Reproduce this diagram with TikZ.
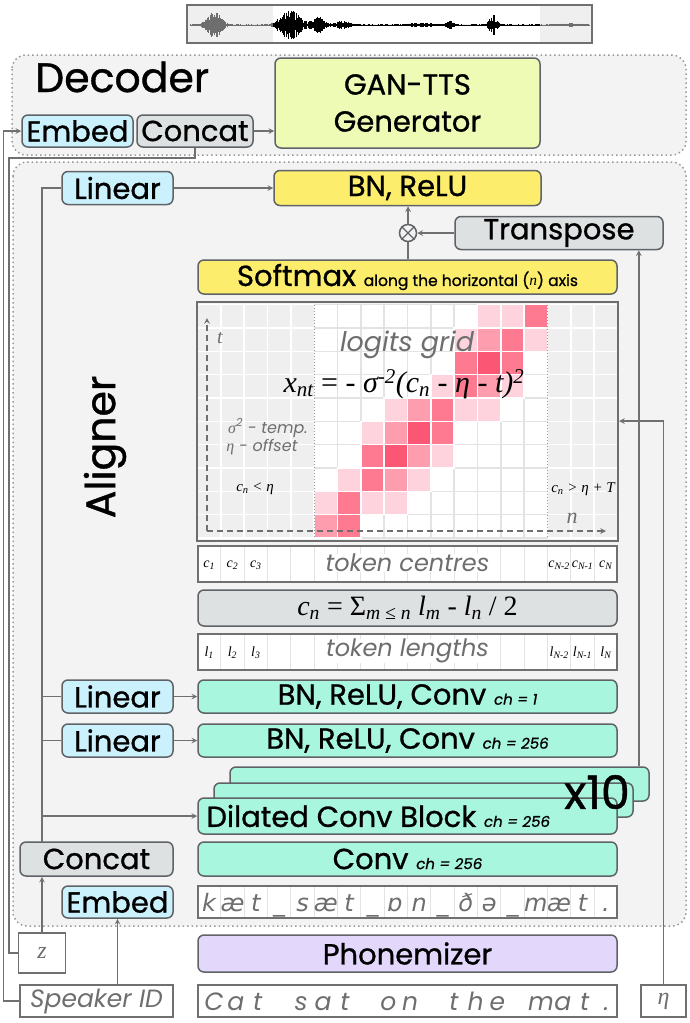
\documentclass[tikz,border=0pt]{standalone}
\usepackage{fontspec}
\setmainfont{Poppins}
\newfontfamily\lbl{Poppins}[FakeBold=0.9]
\newfontfamily\tms{Liberation Serif}
\newfontfamily\ipa{DejaVu Sans}
\usetikzlibrary{calc,arrows}
\usepackage{xcolor}
\definecolor{ln}{HTML}{5F6368}
\definecolor{wirec}{HTML}{707070}
\definecolor{bg}{HTML}{F3F3F3}
\definecolor{regc}{HTML}{9A9A9A}
\definecolor{txg}{HTML}{6E6E6E}
\definecolor{side}{HTML}{EFEFEF}
\definecolor{gline}{HTML}{E3E3E3}
\definecolor{blu}{HTML}{CBF1FC}
\definecolor{gry}{HTML}{DDE1E1}
\definecolor{gan}{HTML}{EEFBB4}
\definecolor{yel}{HTML}{FCEE6C}
\definecolor{grn}{HTML}{A8F6DE}
\definecolor{pur}{HTML}{E3D7FB}
\definecolor{pa}{HTML}{FED3DE}
\definecolor{pb}{HTML}{FE9DAE}
\definecolor{pc}{HTML}{FD7A91}
\definecolor{pd}{HTML}{FB5674}
\newcommand\fsz[1]{\fontsize{#1}{#1}\selectfont}
\newcommand\chn[1]{{\fsz{15}\itshape #1}}
\pgfmathdeclarefunction{bump}{4}{\pgfmathparse{#4*exp(-min(((#1-#2)/#3)^2,9))}}

\begin{document}
\begin{tikzpicture}[x=1pt,y=-1pt,
  box/.style={draw=ln,line width=1.5,rounded corners=6,inner sep=0,font=\lbl\fsz{29}},
  bluebox/.style={box,fill=blu,minimum width=111,minimum height=33},
  graybox/.style={box,fill=gry},
  yelbox/.style={box,fill=yel,minimum width=419,minimum height=34},
  grnbox/.style={box,fill=grn,minimum width=419,minimum height=34},
  whitebox/.style={draw=wirec,line width=1.5,fill=white,inner sep=0,minimum width=419,minimum height=36},
  region/.style={fill=bg,draw=regc,line width=1.5,dash pattern=on 1.5pt off 3pt,rounded corners=14},
  wire/.style={draw=wirec,line width=1.5},
  axis/.style={draw=txg,line width=1.5,dash pattern=on 6pt off 4pt},
  gtext/.style={text=txg,font=\fsz{24}\itshape,inner sep=0}]
\useasboundingbox (0,0) rectangle (689,1023);
\def\gx{197.5}
\def\gy{304.7}
\def\cw{23.333}

\draw[region] (12,55) rectangle (686,155);
\draw[region] (13,162) rectangle (686,926);

\fill[white] (187,5) rectangle (592,43);
\fill[side] (187,5) rectangle (273,43);
\fill[side] (540,5) rectangle (592,43);
\pgfmathsetseed{7}
\foreach \i in {190,190.5,...,589}{
  \pgfmathsetmacro\a{0.6+bump(\i,214,9,13)+bump(\i,290,12,15)+bump(\i,318,8,8)+bump(\i,343,8,4)+bump(\i,420,18,1.5)+bump(\i,450,5,4)+bump(\i,493,5,10)+bump(\i,570,14,1.2)}
  \pgfmathsetmacro\h{\a*(0.3+0.7*rnd)}
  \ifdim\i pt<273pt \def\wc{txg}\else\ifdim\i pt>540pt \def\wc{txg}\else\def\wc{black}\fi\fi
  \draw[\wc,line width=0.6] (\i,25-\h) -- (\i,25+\h);
}
\draw[wirec,line width=1.5] (187,5) rectangle (592,43);

\node[anchor=base west,inner sep=0,font=\lbl\fsz{41}] (Dec) at (35,92) {Decoder};
\node[bluebox,minimum height=32] (EmbD) at (77.5,131) {Embed};
\node[graybox,minimum width=116,minimum height=32] (CatD) at (195,131) {Concat};
\node[box,fill=gan,minimum width=265,minimum height=90,align=center,font=\lbl\fontsize{29}{37}\selectfont] (Gan) at (407.5,103) {GAN-TTS\\Generator};

\node[rotate=90,inner sep=0,font=\lbl\fsz{41}] (Ali) at (105,447) {Aligner};
\node[bluebox] (LinT) at (117.5,188) {Linear};
\node[yelbox,minimum width=267,minimum height=35] (BnR) at (407.5,188) {BN, ReLU};
\node[circle,draw=ln,line width=1.5,fill=bg,minimum size=17,inner sep=0] (Mul) at (408,233) {};
\draw[ln,line width=1.2] (Mul.north west) -- (Mul.south east) (Mul.north east) -- (Mul.south west);
\node[graybox,minimum width=208,minimum height=33] (Trans) at (559,233) {Transpose};
\node[yelbox] (Soft) at (407.5,277) {Softmax {\fsz{15.5}along the horizontal ({\tms\itshape n}) axis}};

\fill[white] (\gx,\gy) rectangle ++(18*\cw,10*\cw);
\fill[side] (\gx,\gy) rectangle ++(5*\cw,10*\cw);
\fill[side] (\gx+15*\cw,\gy) rectangle ++(3*\cw,10*\cw);
\foreach \r in {0,...,10}{
  \draw[white,line width=1.5] (\gx,\gy+\r*\cw) -- ++(5*\cw,0);
  \draw[gline,line width=1.5] (\gx+5*\cw,\gy+\r*\cw) -- ++(10*\cw,0);
  \draw[white,line width=1.5] (\gx+15*\cw,\gy+\r*\cw) -- ++(3*\cw,0);
}
\foreach \k in {1,2,3,4,16,17} \draw[white,line width=1.5] (\gx+\k*\cw,\gy) -- ++(0,10*\cw);
\foreach \k in {6,...,14} \draw[gline,line width=1.5] (\gx+\k*\cw,\gy) -- ++(0,10*\cw);
\foreach \c/\r/\p in {12/0/pa,13/0/pa,14/0/pc,11/1/pa,12/1/pb,13/1/pc,14/1/pa,
  11/2/pc,12/2/pd,13/2/pc,10/3/pa,11/3/pc,12/3/pb,13/3/pa,
  8/4/pa,9/4/pb,10/4/pc,11/4/pa,12/4/pa,7/5/pa,8/5/pb,9/5/pd,10/5/pc,
  7/6/pc,8/6/pd,9/6/pb,10/6/pa,6/7/pa,7/7/pc,8/7/pb,9/7/pa,
  5/8/pa,6/8/pc,7/8/pa,8/8/pa,5/9/pb,6/9/pc}
  \filldraw[fill=\p,draw=white,line width=1.5] (\gx+\c*\cw,\gy+\r*\cw) rectangle ++(\cw,\cw);
\foreach \k in {5,15} \draw[regc,line width=1,dash pattern=on 1pt off 2pt] (\gx+\k*\cw,\gy) -- ++(0,10*\cw);
\draw[axis,-stealth] (207,531) -- (207,318);
\draw[axis,-stealth] (207,531) -- (606,531);
\node[text=txg,font=\tms\itshape\fsz{20}] (Tl) at (220,338) {t};
\node[text=txg,font=\tms\itshape\fsz{22}] (Nl) at (572,518) {n};
\node[gtext,font=\fsz{27}\itshape] (Lg) at (407,345) {logits grid};
\node[font=\tms\itshape\fsz{30},inner sep=0] (Xnt) at (404,384) {x\textsubscript{nt} {\upshape=} - σ\textsuperscript{-2}(c\textsubscript{n} - η - t)\textsuperscript{2}};
\node[gtext,font=\fsz{16}\itshape] (Tmp) at (268,428) {{\tms σ}\textsuperscript{2} - temp.};
\node[gtext,font=\fsz{16}\itshape] (Off) at (262,447) {{\tms η} - offset};
\node[font=\tms\itshape\fsz{15},inner sep=0] (Lo) at (255,489) {c\textsubscript{n} < η};
\node[font=\tms\itshape\fsz{15},inner sep=0] (Hi) at (583,489) {c\textsubscript{n} > η + T};
\node[draw=txg,line width=2,minimum width=421,minimum height=239,inner sep=0] (Grid) at (407.5,421) {};

\node[whitebox] (Cen) at (407.5,564) {};
\node[graybox,minimum width=419,minimum height=36] (Form) at (407.5,608) {\tms\itshape\fsz{28}c\textsubscript{n} {\upshape= Σ}\textsubscript{m ≤ n} l\textsubscript{m} - l\textsubscript{n} {\upshape/ 2}};
\node[whitebox] (Len) at (407.5,652) {};
\foreach \y in {564,652}
  \foreach \k in {1,...,17} \draw[gline,line width=1] (\gx+\k*\cw,\y-17) -- ++(0,34);
\foreach \k/\s in {0/1,1/2,2/3,15/N-2,16/N-1,17/N}{
  \node[font=\tms\itshape\fsz{14},inner sep=0] at (\gx+\k*\cw+0.5*\cw,565) {c\textsubscript{\s}};
  \node[font=\tms\itshape\fsz{14},inner sep=0] at (\gx+\k*\cw+0.5*\cw,653) {l\textsubscript{\s}};
}
\node[gtext,fill=white,inner xsep=2] (CenT) at (407.5,563) {token centres};
\node[gtext,fill=white,inner xsep=2] (LenT) at (407.5,651) {token lengths};

\node[bluebox] (Lin1) at (117.5,696.5) {Linear};
\node[grnbox,minimum height=33] (Conv1) at (407.5,696.5) {BN, ReLU, Conv \chn{ch = 1}};
\node[bluebox] (Lin2) at (117.5,740.5) {Linear};
\node[grnbox,minimum height=33] (Conv2) at (407.5,740.5) {BN, ReLU, Conv \chn{ch = 256}};

\node[grnbox] (Back) at (439.5,784) {};
\node[grnbox] (Mid) at (423.5,800) {};
\node[grnbox,minimum height=36] (Dil) at (407.5,816) {};
\node[anchor=west,inner sep=0,font=\lbl\fsz{29}] (DilT) at ([xshift=9]Dil.west) {Dilated Conv Block \chn{ch = 256}};
\node[inner sep=0,font=\lbl\fsz{46}] (Ten) at (597,792) {x10};

\node[graybox,minimum width=153,minimum height=34] (CatA) at (96.5,859) {Concat};
\node[grnbox] (Conv0) at (407.5,859) {Conv \chn{ch = 256}};
\node[bluebox,minimum height=32] (EmbA) at (117.5,902) {Embed};
\node[whitebox,minimum height=32] (Phon) at (407.5,902) {};
\foreach \k in {1,...,17} \draw[gline,line width=1] (\gx+\k*\cw,887) -- ++(0,30);
\foreach \ch [count=\k from 0] in {k,æ,t,\_,s,æ,t,\_,ɒ,n,\_,ð,ə,\_,m,æ,t,.}
  \node[text=txg,font=\ipa\itshape\fsz{24},inner sep=0,anchor=base] at (\gx+\k*\cw+0.5*\cw,911) {\ch};

\node[whitebox,minimum width=47,minimum height=40] (Z) at (42,953) {};
\node[text=txg,font=\tms\itshape\fsz{24}] at (Z) {z};
\node[box,fill=pur,minimum width=419,minimum height=37] (Phz) at (407.5,953.5) {Phonemizer};
\node[whitebox,minimum width=153,minimum height=32,text=txg,font=\fsz{25}\itshape] (Spk) at (96.5,1001) {Speaker ID};
\node[whitebox,minimum height=32] (Txt) at (407.5,1001) {};
\foreach \ch [count=\k from 0] in {C,a,t,{},s,a,t,{},o,n,{},t,h,e,{},m,a,t,.}
  \node[text=txg,font=\fsz{25}\itshape,inner sep=0,anchor=base] at (214+\k*21.8,1010) {\ch};
\node[whitebox,minimum width=45,minimum height=32] (Eta) at (663.5,1001) {};
\node[text=txg,font=\tms\itshape\fsz{24}] at (Eta) {η};

\draw[wire,-stealth] (CatD.east) -- (CatD.east -| Gan.west);
\draw[wire,-stealth] (LinT.east) -- (LinT.east -| BnR.west);
\draw[wire] (Soft.north -| Mul) -- (Mul);
\draw[wire,-stealth] (Mul) -- (Mul |- BnR.south);
\draw[wire,-stealth] (Trans) -- (Mul);
\draw[wire,-stealth] (Lin1) -- (Conv1);
\draw[wire,-stealth] (Lin2) -- (Conv2);
\coordinate (Trunk) at (42,842);
\draw[wire] (Trunk) |- (LinT);
\draw[wire] (Trunk |- Lin1) -- (Lin1);
\draw[wire] (Trunk |- Lin2) -- (Lin2);
\draw[wire,-stealth] (Trunk |- Dil) -- (Dil);
\draw[wire,-stealth] (Z) -- (Z |- CatA.south);
\draw[wire,-stealth] (EmbA.south |- Spk.north) -- (EmbA.south);
\draw[wire,-stealth] (Spk.west) -- ++(-16,0) |- (EmbD.west);
\coordinate (Zb) at (9,158);
\draw[wire] (Z.west) -| (Zb) -| (CatD.south);
\draw[wire,-stealth] (Eta.north) |- (Grid.east);
\coordinate (Up) at ([xshift=-11]Back.north east);
\draw[wire,-stealth] (Up) -- (Up |- Trans.south);
\end{tikzpicture}
\end{document}
